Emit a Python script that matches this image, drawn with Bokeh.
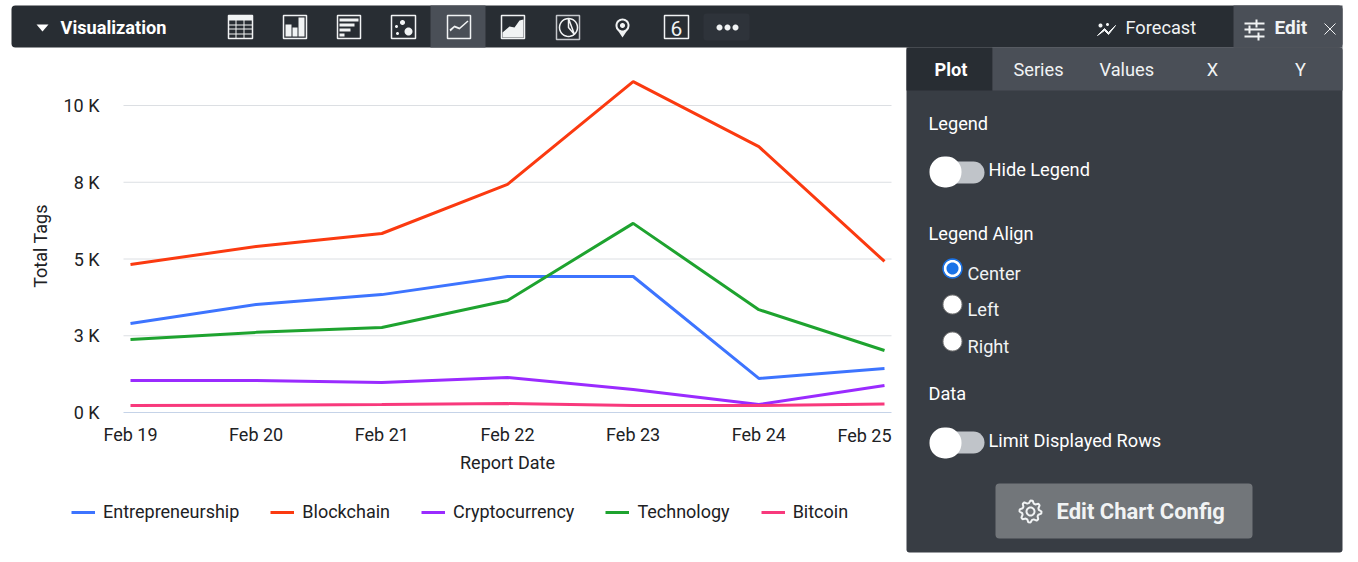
import math

from bokeh.embed import file_html
from bokeh.models import (BoxAnnotation, FixedTicker, Label, Legend, LegendItem,
                          LinearAxis, PolyAnnotation, Range1d)
from bokeh.plotting import figure
from bokeh.resources import INLINE

# data
days = [19, 20, 21, 22, 23, 24, 25]
day_labels = ["Feb 19", "Feb 20", "Feb 21", "Feb 22", "Feb 23", "Feb 24", ""]
entrepreneurship = [2900, 3520, 3840, 4430, 4430, 1110, 1430]
blockchain = [4820, 5410, 5830, 7430, 10780, 8660, 4920]
cryptocurrency = [1040, 1040, 980, 1140, 750, 260, 880]
technology = [2380, 2610, 2770, 3650, 6160, 3350, 2020]
bitcoin = [230, 240, 260, 290, 230, 230, 280]
y_ticks = [0, 2500, 5000, 7500, 10000]
y_labels = ["0 K", "3 K", "5 K", "8 K", "10 K"]

FONT = "Roboto"
TEXT = "#202124"
BAR = "#282d33"
PANEL = "#383d44"
TAB = "#4a4f57"
W = "#f1f3f4"

WIDTH, HEIGHT = 1350, 554
DAY_PX = 754 / 6
K_PX = 307 / 10000
LEFT = 19 - 7 / DAY_PX
RIGHT = 25 + 7 / DAY_PX

# the frame fills the whole canvas so the app chrome can be drawn around the chart
p = figure(width=WIDTH, height=HEIGHT, output_backend="svg", toolbar_location=None,
           x_axis_type=None, y_axis_type=None,
           x_range=Range1d(19 - 130 / DAY_PX, 19 + (WIDTH - 130) / DAY_PX),
           y_range=Range1d(-(HEIGHT - 412) / K_PX, 412 / K_PX),
           min_border=0)
p.outline_line_color = None
p.grid.visible = False

# axes, bounds on y run past the top tick to centre the title where the original has it
xaxis = LinearAxis(ticker=FixedTicker(ticks=days), fixed_location=0, bounds=(LEFT, RIGHT),
                   major_label_overrides=dict(zip(days, day_labels)), axis_label="Report Date")
yaxis = LinearAxis(ticker=FixedTicker(ticks=y_ticks), fixed_location=LEFT, bounds=(0, 10860),
                   major_label_overrides=dict(zip(y_ticks, y_labels)), axis_label="Total Tags")
for ax in (xaxis, yaxis):
    ax.major_tick_line_color = None
    ax.minor_tick_line_color = None
    ax.major_label_text_font = FONT
    ax.major_label_text_font_size = "18px"
    ax.major_label_text_color = TEXT
    ax.axis_label_text_font = FONT
    ax.axis_label_text_font_size = "18px"
    ax.axis_label_text_font_style = "normal"
    ax.axis_label_text_color = TEXT
xaxis.axis_line_color = "#c5d3e8"
yaxis.axis_line_color = None
xaxis.major_label_standoff = 5
yaxis.major_label_standoff = 18
xaxis.axis_label_standoff = 4
yaxis.axis_label_standoff = 10
p.add_layout(xaxis, "below")
p.add_layout(yaxis, "left")

for v in y_ticks[1:]:
    p.line([LEFT, RIGHT], [v, v], line_color="#dcdfe3", line_width=1)

# series
series = [("Entrepreneurship", entrepreneurship, "#3d74ff"),
          ("Blockchain", blockchain, "#fb3a10"),
          ("Cryptocurrency", cryptocurrency, "#9a2bff"),
          ("Technology", technology, "#1ea32f"),
          ("Bitcoin", bitcoin, "#f8397c")]
items = []
for name, vals, col in series:
    r = p.line(days, vals, line_color=col, line_width=3)
    items.append(LegendItem(label=name, renderers=[r]))

legend = Legend(items=items, orientation="horizontal", location=(71, 32),
                background_fill_alpha=0, border_line_color=None, spacing=31,
                glyph_width=24, label_standoff=8, margin=0, padding=0,
                label_text_font=FONT, label_text_font_size="18px", label_text_color=TEXT)
p.add_layout(legend)


# picture pixel helpers for the chrome
def box(x0, y0, x1, y1, col, radius=0, line=None, lw=1):
    p.add_layout(BoxAnnotation(left=x0, right=x1, top=y0, bottom=y1,
                               left_units="canvas", right_units="canvas",
                               top_units="canvas", bottom_units="canvas",
                               fill_color=col, fill_alpha=1 if col else 0,
                               line_color=line, line_alpha=1, line_width=lw,
                               border_radius=radius, editable=False))


def poly(xs, ys, col, line=None, lw=1):
    p.add_layout(PolyAnnotation(xs=list(xs), ys=list(ys),
                                xs_units="canvas", ys_units="canvas",
                                fill_color=col, fill_alpha=1 if col else 0,
                                line_color=line, line_alpha=1, line_width=lw))


def text(x, y, s, size=18.2, col="#ffffff", style="normal", align="left"):
    p.add_layout(Label(x=x, y=y, x_units="canvas", y_units="canvas", text=s,
                       text_font=FONT, text_font_size=f"{size}px", text_color=col,
                       text_font_style=style, text_align=align, text_baseline="middle"))


def circle_pts(cx, cy, r, n=32):
    a = [2 * math.pi * i / n for i in range(n)]
    return [cx + r * math.cos(t) for t in a], [cy + r * math.sin(t) for t in a]


def gear_pts(cx, cy, r_out, r_in, teeth=8):
    n = teeth * 4
    rr = [r_out if i % 4 < 2 else r_in for i in range(n)]
    a = [2 * math.pi * i / n for i in range(n)]
    return ([cx + r * math.cos(t) for r, t in zip(rr, a)],
            [cy + r * math.sin(t) for r, t in zip(rr, a)])


text(891, 435, "Feb 25", 18, TEXT, align="right")

box(11, 5, 1342, 47, BAR, 4)
box(430, 5, 485, 47, TAB)
box(703, 13, 749, 40, "#2e333a", 3)
box(1233, 5, 1342, 47, TAB)
box(906, 47, 1342, 552, PANEL, 3)
box(906, 47, 992, 90, BAR)
box(992, 47, 1342, 90, TAB)

poly([36, 48, 42], [24, 24, 31], "#ffffff")
text(60, 27, "Visualization", style="bold")

# table
box(228, 15, 252, 38, None, line=W, lw=1.5)
box(228, 15, 252, 20, W)
for yy in (24, 28, 33):
    box(228, yy, 252, yy + 1, W)
for xx in (235, 243):
    box(xx, 15, xx + 1, 38, W)
# bars
box(283, 15, 306, 38, None, line=W, lw=1.5)
box(285, 24, 291, 36, W)
box(292, 27, 297, 36, W)
box(298, 17, 304, 36, W)
# rows
box(337, 15, 360, 38, None, line=W, lw=1.5)
box(339, 18, 358, 21, W)
box(339, 23, 354, 26, W)
box(339, 28, 350, 31, W)
box(339, 33, 344, 36, W)
# scatter
box(391, 15, 415, 38, None, line=W, lw=1.5)
poly(*circle_pts(402, 22, 2.5), W)
poly(*circle_pts(408, 31, 4), W)
poly(*circle_pts(396, 26, 1.5), W)
poly(*circle_pts(397, 33, 1.5), W)
# line
box(447, 15, 470, 38, None, line=W, lw=1.5)
poly([449, 454, 459, 467, 468, 459, 454, 450], [29, 25, 27, 20, 21, 29, 27, 31], W)
# area
box(501, 15, 524, 38, None, line=W, lw=1.5)
poly([502, 509, 514, 519, 523, 523, 502], [32, 26, 27, 20, 19, 37, 37], W)
# pie
box(556, 15, 579, 39, None, line="#c4c7cb", lw=1.5)
poly(*circle_pts(568, 27, 9), None, W, 1.5)
poly([568, 568, 574], [18, 27, 34], None, W, 1.5)
# pin
poly([616, 628, 622], [28, 28, 37], W)
poly(*circle_pts(622, 25, 7), W)
poly(*circle_pts(622, 25, 5), BAR)
poly(*circle_pts(622, 25, 2.5), W)
# single value
box(664, 15, 688, 38, None, line=W, lw=1.5)
text(676, 28, "6", 21, W, align="center")
# more
for cx in (719, 727, 735):
    poly(*circle_pts(cx, 27, 3), W)

# forecast
poly([1097, 1104, 1108, 1115, 1108, 1104], [35, 28, 32, 25, 34, 30], W, W, 1)
poly(*circle_pts(1100, 25, 2), W)
poly(*circle_pts(1107, 24, 1.5), W)
text(1125, 27, "Forecast", 18.2, W)
# edit
for yy, xa in ((22, 1255), (28, 1248), (35, 1257)):
    box(1244, yy, 1264, yy + 2, W)
    box(xa, yy - 3, xa + 2, yy + 5, W)
text(1274, 27, "Edit", 19, W, style="bold")
poly([1324, 1335], [23, 34], None, W, 1)
poly([1335, 1324], [23, 34], None, W, 1)

text(934, 69, "Plot", style="bold")
text(1013, 69, "Series", 18.2, W)
text(1099, 69, "Values", 18.2, W)
text(1212, 69, "X", 18.2, W, align="center")
text(1300, 69, "Y", 18.2, W, align="center")

text(928, 123, "Legend")
box(930, 161, 984, 183, "#c0c4c9", 11)
box(929, 156, 961, 187, "#ffffff", 15)
text(988, 169, "Hide Legend")

text(928, 233, "Legend Align")
poly(*circle_pts(952, 268, 9), "#ffffff")
poly(*circle_pts(952, 268, 6), "#1a73e8")
poly(*circle_pts(952, 268, 9.5), None, "#1a73e8", 1.5)
text(967, 273, "Center", 18.2, W)
poly(*circle_pts(952, 304, 9.5), "#ffffff", "#777777", 1)
text(967, 309, "Left", 18.2, W)
poly(*circle_pts(952, 341, 9.5), "#ffffff", "#777777", 1)
text(967, 346, "Right", 18.2, W)

text(928, 393, "Data")
box(930, 431, 984, 453, "#c0c4c9", 11)
box(929, 427, 961, 458, "#ffffff", 15)
text(988, 440, "Limit Displayed Rows")

box(995, 483, 1252, 538, "#72767a", 4)
poly(*gear_pts(1030, 511, 11, 8.5), None, W, 2)
poly(*circle_pts(1030, 511, 4), None, W, 2)
text(1056, 511, "Edit Chart Config", 22, W, style="bold")

open("out.html", "w").write(file_html(p, INLINE))
